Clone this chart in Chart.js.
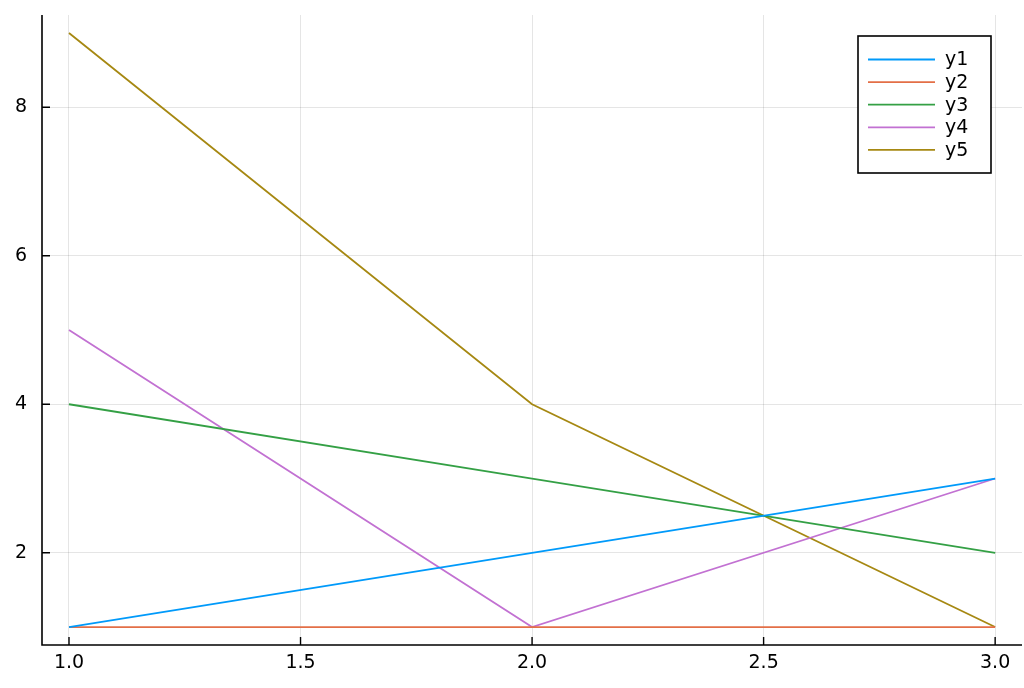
<!DOCTYPE html>
<html>
<head>
<meta charset="utf-8">
<script src="https://cdn.jsdelivr.net/npm/chart.js@4/dist/chart.umd.min.js"></script>
<style>
html,body{margin:0;padding:0;background:#fff;}
#wrap{width:1024px;height:688px;position:relative;}
</style>
</head>
<body>
<div id="wrap"><canvas id="c"></canvas></div>
<script>
const xValues = [1, 2, 3];
const seriesNames = ["y1", "y2", "y3", "y4", "y5"];
const y1 = [1, 2, 3];
const y2 = [1, 1, 1];
const y3 = [4, 3, 2];
const y4 = [5, 1, 3];
const y5 = [9, 4, 1];
const seriesValues = [y1, y2, y3, y4, y5];
const seriesColors = ["#009AFA", "#E36F47", "#34A045", "#C271D2", "#A68812"];
const xTicks = [1.0, 1.5, 2.0, 2.5, 3.0];
const yTicks = [2, 4, 6, 8];

const FONT = "'DejaVu Sans', sans-serif";

const datasets = seriesValues.map((vals, i) => ({
  label: seriesNames[i],
  data: vals.map((v, j) => ({x: xValues[j], y: v})),
  borderColor: seriesColors[i],
  backgroundColor: seriesColors[i],
  borderWidth: 1.8,
  pointRadius: 0,
  fill: false,
  tension: 0
}));

const axisPlugin = {
  id: 'axisPlugin',
  afterDatasetsDraw(chart) {
    const ctx = chart.ctx;
    const a = chart.chartArea;
    const xs = chart.scales.x, ys = chart.scales.y;
    ctx.save();
    ctx.strokeStyle = '#000';
    ctx.lineWidth = 1.6;
    ctx.beginPath();
    ctx.moveTo(a.left, a.top);
    ctx.lineTo(a.left, a.bottom);
    ctx.lineTo(a.right, a.bottom);
    ctx.stroke();
    ctx.lineWidth = 1.4;
    ctx.beginPath();
    xTicks.forEach(t => {
      const px = xs.getPixelForValue(t);
      ctx.moveTo(px, a.bottom);
      ctx.lineTo(px, a.bottom - 8);
    });
    yTicks.forEach(t => {
      const py = ys.getPixelForValue(t);
      ctx.moveTo(a.left, py);
      ctx.lineTo(a.left + 8, py);
    });
    ctx.stroke();
    // legend
    const bx = 858, by = 36, bw = 133, bh = 137;
    ctx.fillStyle = '#fff';
    ctx.fillRect(bx, by, bw, bh);
    ctx.lineWidth = 1.6;
    ctx.strokeStyle = '#000';
    ctx.strokeRect(bx, by, bw, bh);
    ctx.font = '19px ' + FONT;
    ctx.textBaseline = 'middle';
    ctx.textAlign = 'left';
    chart.data.datasets.forEach((ds, i) => {
      const ry = 59.5 + i * 22.6;
      ctx.strokeStyle = ds.borderColor;
      ctx.lineWidth = 1.8;
      ctx.beginPath();
      ctx.moveTo(868, ry);
      ctx.lineTo(935, ry);
      ctx.stroke();
      ctx.fillStyle = '#000';
      ctx.fillText(ds.label, 945, ry + 1);
    });
    ctx.restore();
  }
};

new Chart(document.getElementById('c'), {
  type: 'line',
  data: {datasets},
  options: {
    responsive: true,
    maintainAspectRatio: false,
    animation: false,
    devicePixelRatio: 1,
    layout: {padding: {top: 15, right: 2, left: 0, bottom: 0}},
    plugins: {legend: {display: false}, tooltip: {enabled: false}},
    scales: {
      x: {
        type: 'linear',
        min: 0.9417,
        max: 3.058,
        afterBuildTicks(scale) { scale.ticks = xTicks.map(v => ({value: v})); },
        afterFit(scale) { scale.height = 43; scale.paddingLeft = 0; scale.paddingRight = 0; },
        ticks: {
          color: '#000',
          font: {family: FONT, size: 19},
          padding: 7,
          maxRotation: 0,
          autoSkip: false,
          callback: v => Number(v).toFixed(1)
        },
        grid: {color: 'rgba(0,0,0,0.1)', lineWidth: 1, drawTicks: false},
        border: {display: false}
      },
      y: {
        type: 'linear',
        min: 0.758,
        max: 9.242,
        afterBuildTicks(scale) { scale.ticks = yTicks.map(v => ({value: v})); },
        afterFit(scale) { scale.width = 42; scale.paddingTop = 0; scale.paddingBottom = 0; },
        ticks: {
          color: '#000',
          font: {family: FONT, size: 19},
          padding: 15,
          autoSkip: false,
          callback: v => String(v)
        },
        grid: {color: 'rgba(0,0,0,0.1)', lineWidth: 1, drawTicks: false},
        border: {display: false}
      }
    }
  },
  plugins: [axisPlugin]
});
</script>
</body>
</html>
